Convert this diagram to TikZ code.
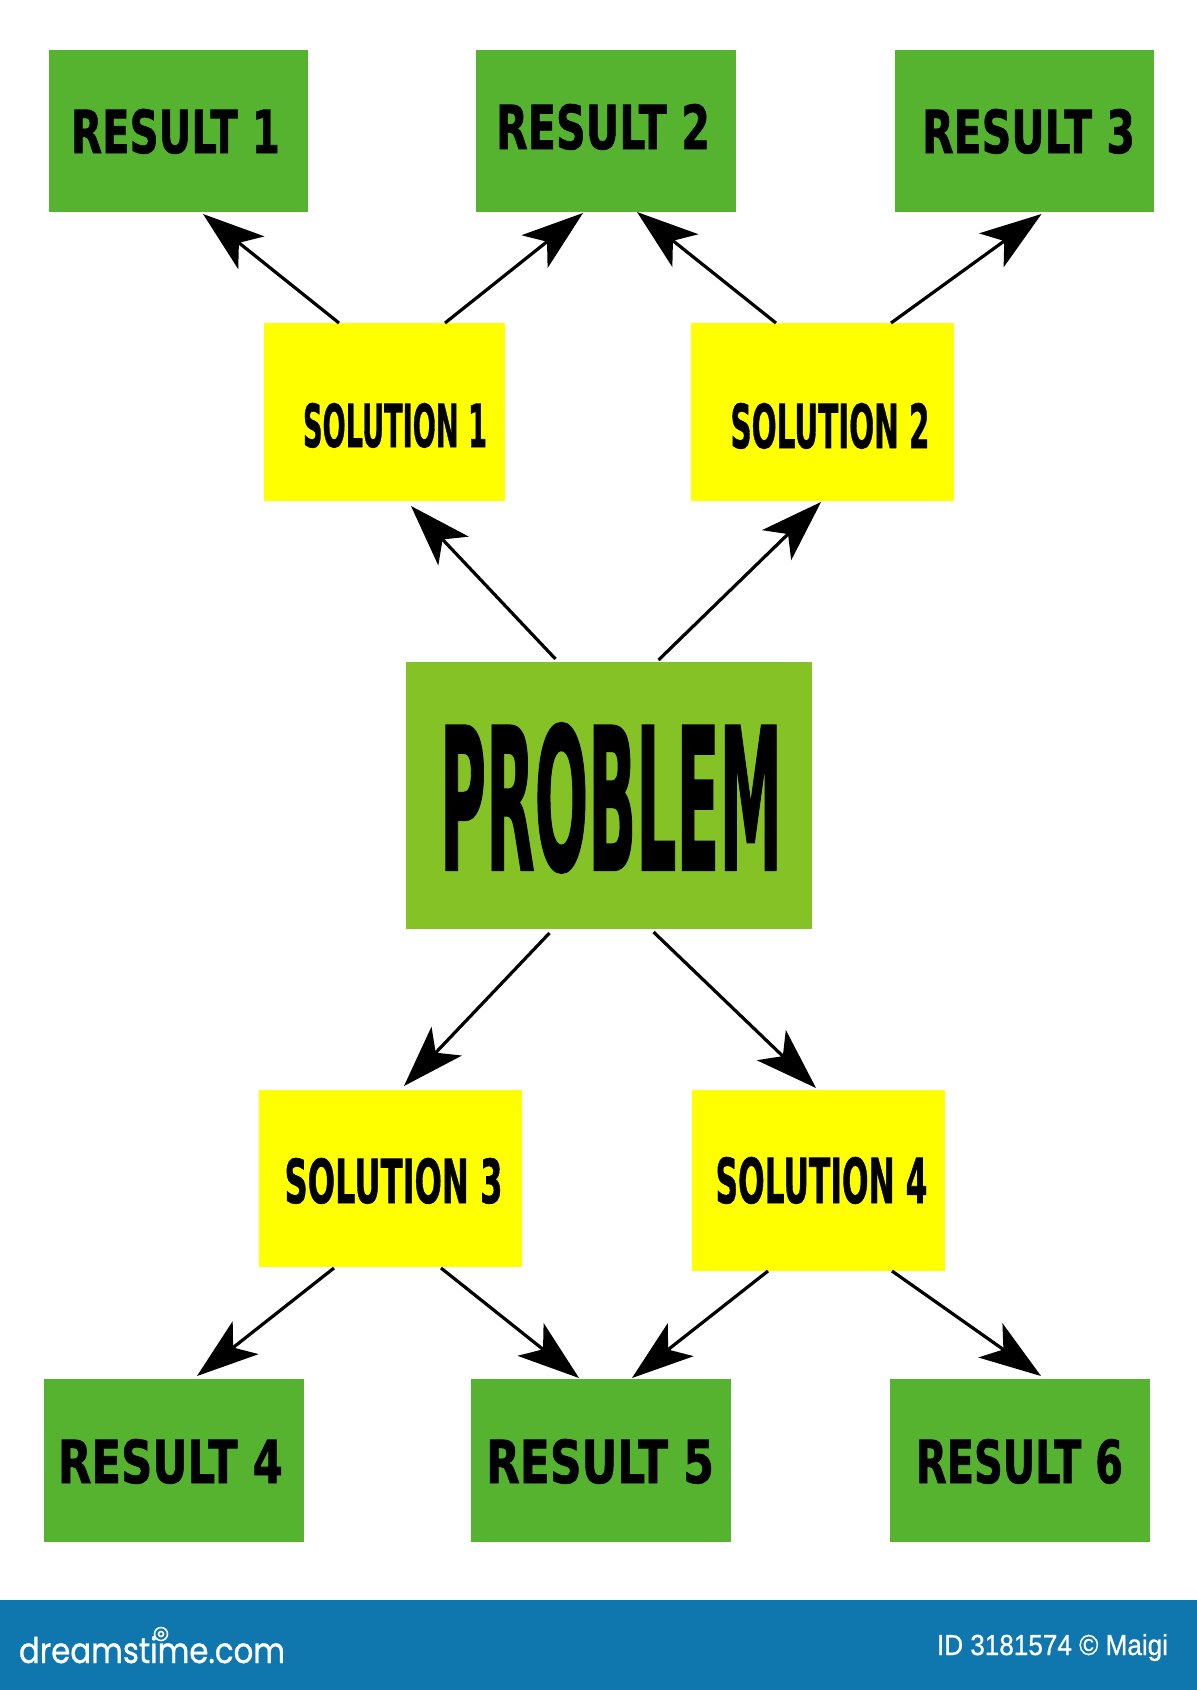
\documentclass[tikz,border=0pt]{standalone}
\usepackage{fontspec}
\usepackage{graphicx}
\setmainfont{DejaVu Sans}[BoldFeatures={FakeBold=1.2}]
\newfontfamily\logofont{Poppins}[FakeBold=1.0]
\newfontfamily\creditfont{Liberation Sans}[FakeBold=0.8]
\usetikzlibrary{arrows.meta}
\definecolor{resgreen}{HTML}{55B32F}
\definecolor{probgreen}{HTML}{84C225}
\definecolor{solyellow}{HTML}{FFFF00}
\definecolor{footblue}{HTML}{0F76AE}
\tikzset{
  boxbase/.style={anchor=north west,inner sep=0pt,outer sep=0pt,draw=none},
  resultbox/.style={boxbase,fill=resgreen,minimum width=259.5pt,minimum height=162.5pt},
  problembox/.style={boxbase,fill=probgreen,minimum width=406pt,minimum height=267pt},
  solbox/.style={boxbase,fill=solyellow},
  lbl/.style={anchor=base west,inner sep=0pt,outer sep=0pt,text=black},
  arr/.style={draw=black,line width=3.2pt,-{Stealth[length=62pt,width=42pt,inset=16pt,line width=0pt]}},
}
\newcommand{\lbltext}[6]{\node[lbl] (#1) at (#2,#3) {\resizebox{#4pt}{#5pt}{\bfseries #6}};}
\begin{document}
\begin{tikzpicture}[x=1pt,y=-1pt]
\useasboundingbox (0,0) rectangle (1197,1690);
\fill[white] (0,0) rectangle (1197,1690);

% boxes
\node[resultbox] (r1) at (48.5,49.5) {};
\node[resultbox] (r2) at (476,49.5) {};
\node[resultbox] (r3) at (894.5,49.5) {};
\node[solbox,minimum width=241pt,minimum height=178pt] (s1) at (264,323) {};
\node[solbox,minimum width=262.5pt,minimum height=178pt] (s2) at (691,323) {};
\node[problembox] (p) at (405.5,662) {};
\node[solbox,minimum width=263pt,minimum height=177pt] (s3) at (258.5,1090) {};
\node[solbox,minimum width=253pt,minimum height=181pt] (s4) at (692,1090) {};
\node[resultbox] (r4) at (44,1379) {};
\node[resultbox] (r5) at (471,1379) {};
\node[resultbox] (r6) at (890,1379) {};

% labels
\lbltext{t1}{71}{153}{209}{44}{RESULT 1}
\lbltext{t2}{496}{149}{214}{45}{RESULT 2}
\lbltext{t3}{922}{153}{213}{44}{RESULT 3}
\lbltext{t4}{303}{447}{184}{44}{SOLUTION 1}
\lbltext{t5}{730.5}{448}{199}{45}{SOLUTION 2}
\lbltext{t6}{284.5}{1203}{218}{45}{SOLUTION 3}
\lbltext{t7}{715.5}{1203}{212}{46}{SOLUTION 4}
\lbltext{t8}{440}{870}{342}{147}{PROBLEM}
\lbltext{t9}{58}{1483}{225}{44}{RESULT 4}
\lbltext{t10}{486}{1483}{228}{44}{RESULT 5}
\lbltext{t11}{916}{1483}{207}{44}{RESULT 6}

% connectors
\draw[arr] ([xshift=75pt]s1.north west) -- ([xshift=154.5pt,yshift=-2pt]r1.south west);
\draw[arr] ([xshift=181pt]s1.north west) -- ([xshift=107pt,yshift=-1pt]r2.south west);
\draw[arr] ([xshift=85pt]s2.north west) -- ([xshift=161pt]r2.south west);
\draw[arr] ([xshift=200pt]s2.north west) -- ([xshift=147pt,yshift=-2pt]r3.south west);
\draw[arr] ([xshift=150pt,yshift=3pt]p.north west) -- ([xshift=147pt,yshift=-5pt]s1.south west);
\draw[arr] ([xshift=253pt,yshift=2pt]p.north west) -- ([xshift=130pt,yshift=-1pt]s2.south west);
\draw[arr] ([xshift=144pt,yshift=-4pt]p.south west) -- ([xshift=145.5pt,yshift=4pt]s3.north west);
\draw[arr] ([xshift=248pt,yshift=-3pt]p.south west) -- ([xshift=124pt,yshift=2pt]s4.north west);
\draw[arr] ([xshift=75.5pt,yshift=-1pt]s3.south west) -- ([xshift=153pt,yshift=3pt]r4.north west);
\draw[arr] ([xshift=182.5pt,yshift=-1pt]s3.south west) -- ([xshift=108pt,yshift=1pt]r5.north west);
\draw[arr] ([xshift=76pt]s4.south west) -- ([xshift=161pt,yshift=1pt]r5.north west);
\draw[arr] ([xshift=200pt]s4.south west) -- ([xshift=151pt,yshift=3pt]r6.north west);

% footer
\fill[footblue] (0,1600) rectangle (1197,1690);
\node[lbl,text=white] (logo) at (19,1663) {\resizebox{266pt}{27pt}{\logofont dreamstime.com}};
\draw[white,line width=1.6pt] (161,1634) circle[radius=6.5pt];
\draw[white,line width=1.6pt] (161,1634) circle[radius=2.5pt];
\node[lbl,text=white] (credit) at (937,1655) {\resizebox{231pt}{21pt}{\creditfont ID 3181574 © Maigi}};
\end{tikzpicture}
\end{document}
